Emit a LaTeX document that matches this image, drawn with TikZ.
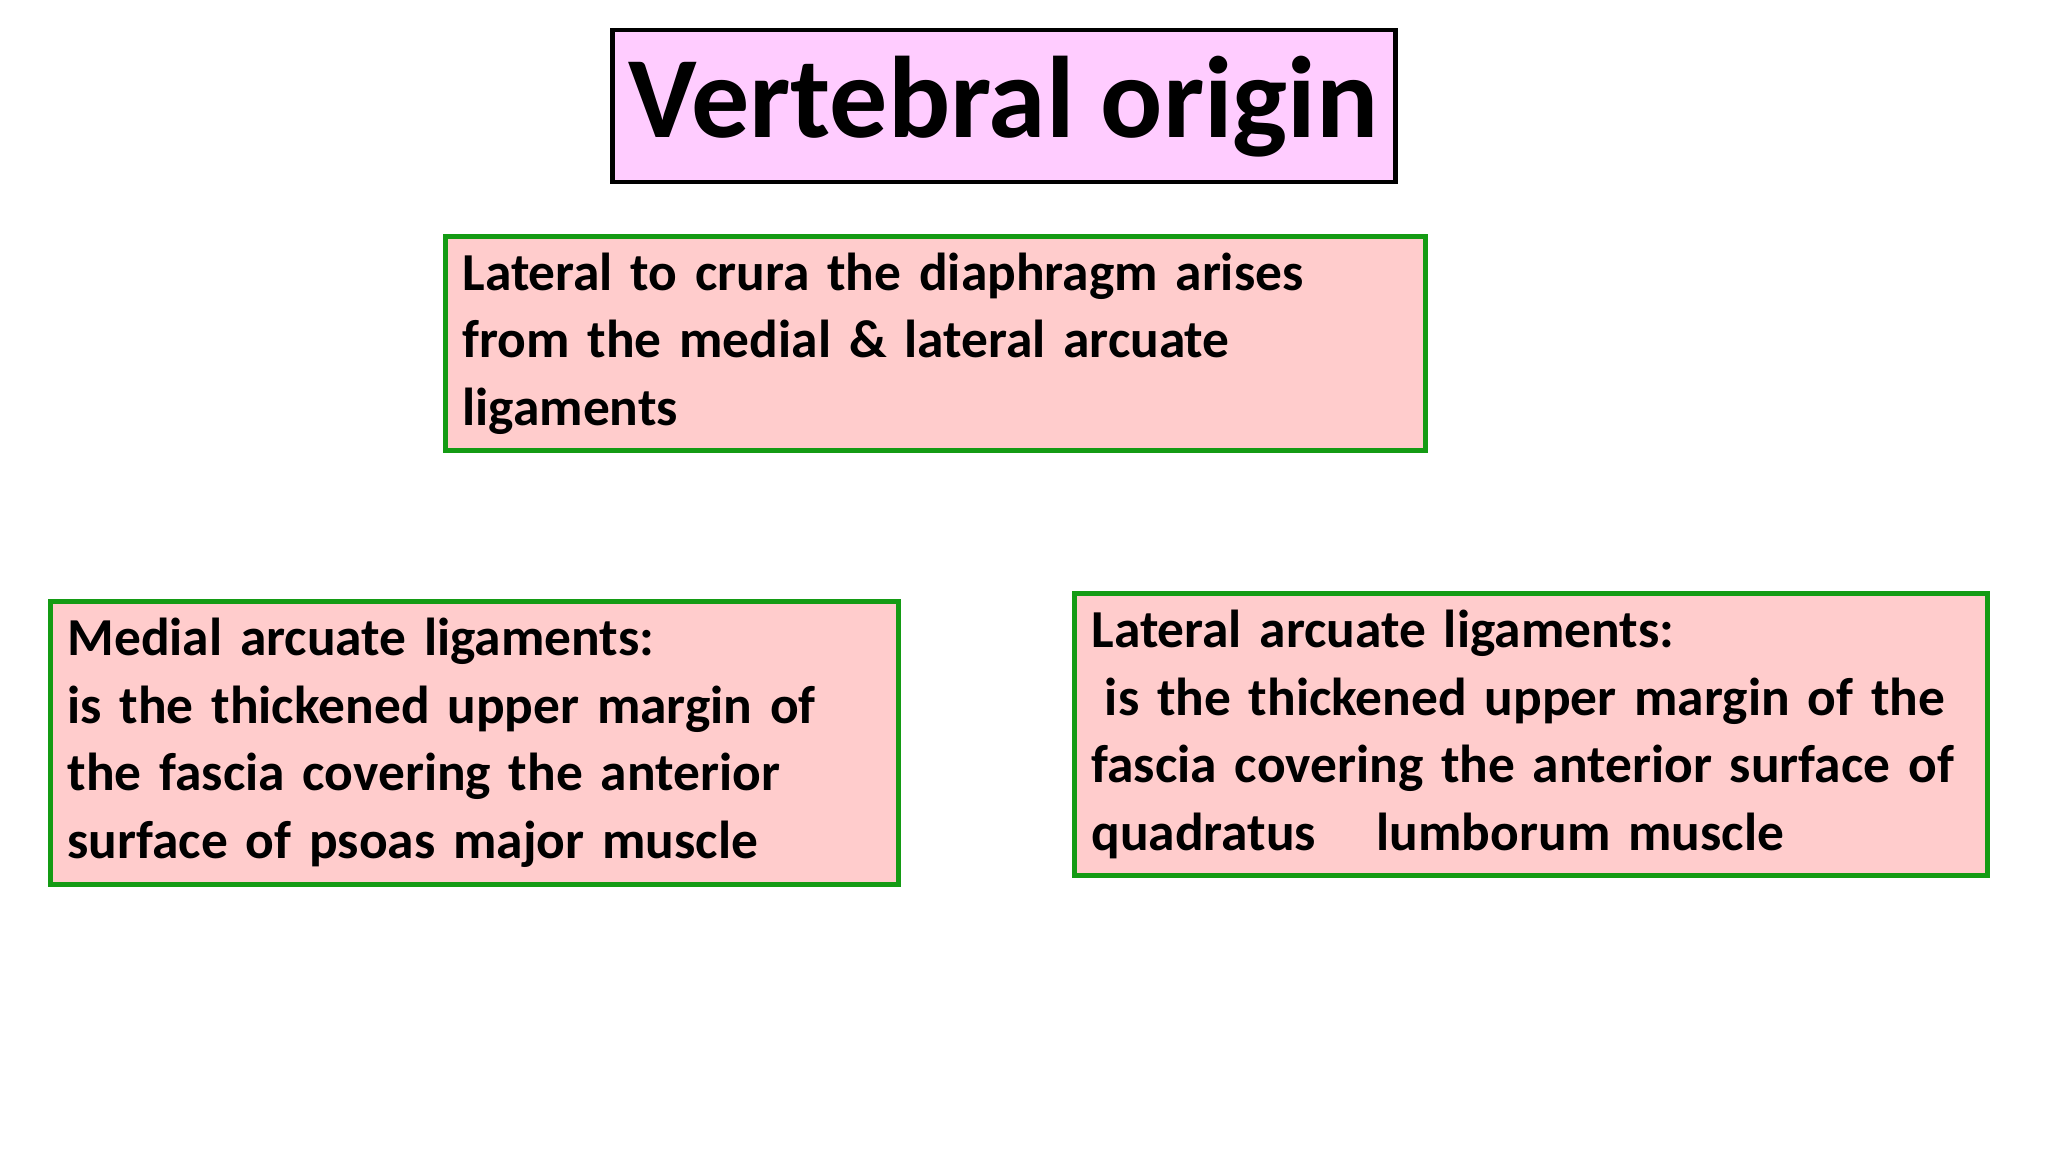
\documentclass[tikz,border=0pt]{standalone}
\usepackage{fontspec}
\setmainfont{Carlito}
\definecolor{titlepink}{RGB}{255,204,255}
\definecolor{boxpink}{RGB}{255,204,204}
\definecolor{boxgreen}{RGB}{20,155,20}
\tikzset{
  titlebox/.style={draw=black, line width=0.045cm, fill=titlepink, anchor=north west,
    font=\fontsize{33}{40}\selectfont\bfseries, inner sep=0pt},
  notebox/.style={draw=boxgreen, line width=0.05cm, fill=boxpink, anchor=north west,
    font=\fontsize{15.2}{19.2}\selectfont\bfseries, align=left, inner xsep=0.17cm, inner ysep=0pt}
}
\begin{document}
\begin{tikzpicture}
  \useasboundingbox (0,0) rectangle (20.48,11.52);
  \node[titlebox, minimum width=7.83cm, minimum height=1.52cm] (title) at (6.10,11.24) {Vertebral origin};
  \node[notebox, text width=9.46cm, minimum height=2.14cm] (crura) at (4.43,9.18)
    {Lateral to crura the diaphragm arises\\from the medial \& lateral arcuate\\ligaments};
  \node[notebox, text width=8.14cm, minimum height=2.83cm] (medial) at (0.48,5.53)
    {Medial arcuate ligaments:\\is the thickened upper margin of\\the fascia covering the anterior\\surface of psoas major muscle};
  \node[notebox, text width=8.79cm, minimum height=2.82cm] (lateral) at (10.72,5.61)
    {Lateral arcuate ligaments:\\\hspace*{0.25em}is the thickened upper margin of the\\fascia covering the anterior surface of\\quadratus\hspace{0.8em} lumborum muscle};
\end{tikzpicture}
\end{document}
